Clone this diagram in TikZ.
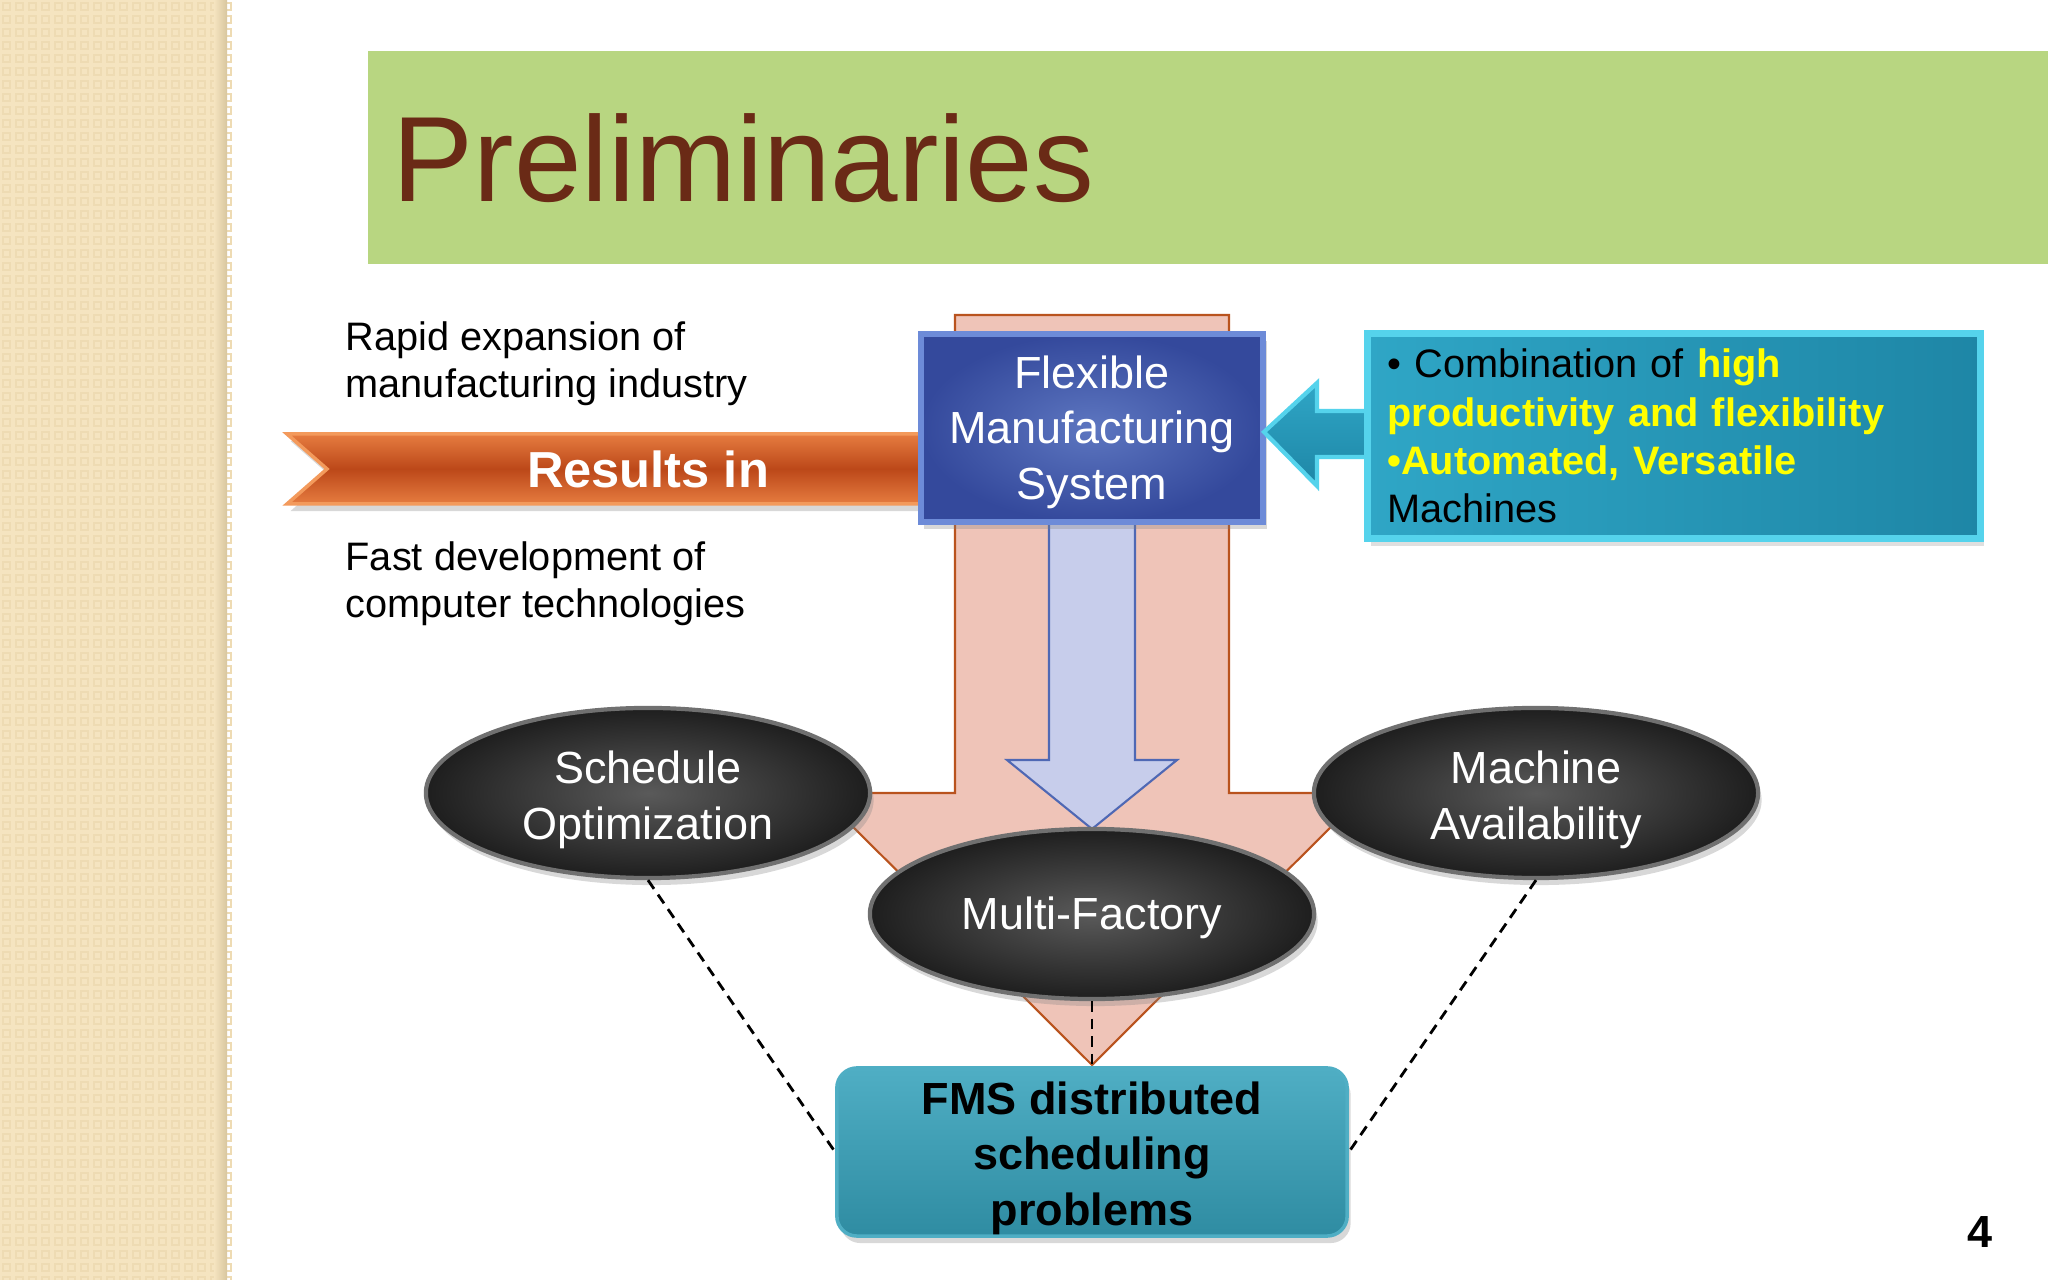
\documentclass[tikz,border=0pt]{standalone}
\usepackage{fontspec}
\setmainfont{Liberation Sans}
\usepackage{tikz}
\usetikzlibrary{shapes.geometric}
\usetikzlibrary{shadows}
\definecolor{stripbeige}{HTML}{F5E4C0}
\definecolor{stripdot}{HTML}{EEDBB3}
\definecolor{stripedge}{HTML}{D8C69E}
\definecolor{titlegreen}{HTML}{B8D681}
\definecolor{titlebrown}{HTML}{6A2A16}
\definecolor{salmonfill}{HTML}{EFC4B8}
\definecolor{salmonline}{HTML}{B9531E}
\definecolor{lavfill}{HTML}{C7CDEB}
\definecolor{lavline}{HTML}{4F68B4}
\definecolor{fmsblue}{HTML}{34499C}
\definecolor{fmslight}{HTML}{5D76C0}
\definecolor{fmsline}{HTML}{6D8BD8}
\definecolor{bannertop}{HTML}{E67C40}
\definecolor{bannermid}{HTML}{BC4819}
\definecolor{bannerline}{HTML}{F39A5C}
\definecolor{tealdark}{HTML}{1E86A6}
\definecolor{teallight}{HTML}{2FA6C6}
\definecolor{tealline}{HTML}{55D3EC}
\definecolor{hiyellow}{HTML}{FFFF00}
\definecolor{ovaldark}{HTML}{1E1E1E}
\definecolor{ovallight}{HTML}{5A5A5A}
\definecolor{ovalline}{HTML}{707070}
\definecolor{boxtop}{HTML}{4FAEC4}
\definecolor{boxbottom}{HTML}{2F8CA2}
\newcommand{\plainsize}{\fontsize{11.3}{13.4}\selectfont}
\newcommand{\infosize}{\fontsize{11.3}{13.7}\selectfont}
\newcommand{\ovalsize}{\fontsize{12.8}{15.8}\selectfont}
\newcommand{\lift}[1]{\rule{0pt}{#1}}
\tikzset{
	textstyle/.style={anchor=west,align=left,inner sep=0pt,font=\plainsize},
	ovalstyle/.style={ellipse,inner sep=0pt,draw=ovalline,line width=1.2pt,inner color=ovallight,outer color=ovaldark,text=white,minimum width=4.44cm,minimum height=1.7cm,align=center,font=\ovalsize,drop shadow={opacity=0.3,shadow xshift=1pt,shadow yshift=-2pt}},
	fmsstyle/.style={rectangle,draw=fmsline,line width=1.5pt,inner color=fmslight,outer color=fmsblue,text=white,minimum width=3.42cm,minimum height=1.88cm,align=center,font=\ovalsize,drop shadow={opacity=0.3,shadow xshift=1pt,shadow yshift=-2pt}},
	infostyle/.style={rectangle,draw=tealline,line width=2pt,left color=teallight,right color=tealdark,minimum width=6.13cm,minimum height=2.05cm,text width=5.73cm,inner xsep=0.2cm,align=left,font=\infosize,drop shadow={opacity=0.25,shadow xshift=1pt,shadow yshift=-2pt}},
	problemstyle/.style={rectangle,rounded corners=0.2cm,inner ysep=0pt,draw=boxtop,line width=1pt,top color=boxtop,bottom color=boxbottom,minimum width=5.1cm,minimum height=1.68cm,align=center,font=\ovalsize\bfseries,drop shadow={opacity=0.3,shadow xshift=1pt,shadow yshift=-2pt}},
	bigarrowstyle/.style={draw=salmonline,line width=0.6pt,fill=salmonfill},
	downarrowstyle/.style={draw=lavline,line width=0.6pt,fill=lavfill},
	bannerstyle/.style={draw=bannerline,line width=1pt,top color=bannertop,bottom color=bannertop,middle color=bannermid,drop shadow={opacity=0.3,shadow xshift=1pt,shadow yshift=-2pt}},
	callstyle/.style={draw=tealline,line width=1.2pt,top color=teallight,bottom color=tealdark},
	linkstyle/.style={dash pattern=on 3pt off 2pt,line width=0.8pt}
}
\begin{document}
\begin{tikzpicture}[x=0.01cm,y=-0.01cm]
	\useasboundingbox (0,0) rectangle (2048,1280);
	\fill[white] (0,0) rectangle (2048,1280);
	\fill[stripbeige] (0,0) rectangle (227,1280);
	\foreach \i in {0,...,17}{
		\foreach \j in {0,...,98}{
			\draw[stripdot,line width=0.6pt] (\i*13+3,\j*13+3) rectangle +(7,7);
		}
	}
	\shade[left color=stripbeige,right color=stripedge] (214,0) rectangle (227,1280);
	\fill[titlegreen] (368,51) rectangle (2048,264);
	\node[anchor=base west,inner sep=0pt,text=titlebrown,font=\fontsize{34.5}{40}\selectfont] (title) at (392,202) {Preliminaries};

	\draw[bigarrowstyle] (955,315) -- (1229,315) -- (1229,793) -- (1365,793) -- (1092,1065) -- (819,793) -- (955,793) -- cycle;
	\draw[downarrowstyle] (1049,515) -- (1135,515) -- (1135,760) -- (1177,760) -- (1092,829) -- (1007,760) -- (1049,760) -- cycle;
	\draw[bannerstyle] (287,434) -- (925,434) -- (925,504) -- (287,504) -- (327,469) -- cycle;
	\node[text=white,font=\fontsize{14.4}{17}\selectfont\bfseries] (results) at (648,469) {Results in};

	\node[textstyle] (rapid) at (345,364) {Rapid expansion of\\manufacturing industry};
	\node[textstyle] (fast) at (345,584) {Fast development of\\computer technologies};

	\node[fmsstyle] (fms) at (1092,428) {\lift{11.6pt}Flexible\\Manufacturing\\System};
	\draw[callstyle] (1264,432) -- (1317,383) -- (1317,411) -- (1372,411) -- (1372,457) -- (1317,457) -- (1317,486) -- cycle;
	\node[infostyle] (info) at (1674,436) {\textbullet{} Combination of \textcolor{hiyellow}{\bfseries high}\\\textcolor{hiyellow}{\bfseries productivity and flexibility}\\\textcolor{hiyellow}{\bfseries \textbullet Automated, Versatile}\\Machines};

	\node[ovalstyle] (sched) at (648,793) {\lift{13.2pt}Schedule\\Optimization};
	\node[ovalstyle] (mach) at (1536,793) {\lift{13.2pt}Machine\\Availability};
	\node[ovalstyle] (multi) at (1092,914) {\lift{11.6pt}Multi-Factory};
	\node[problemstyle] (fmsd) at (1092,1152) {\lift{12.7pt}FMS distributed\\scheduling\\problems};
	\draw[linkstyle] (sched.south)--(fmsd.west);
	\draw[linkstyle] (mach.south)--(fmsd.east);
	\draw[linkstyle] (multi.south)--(fmsd.north);

	\node[font=\fontsize{12.8}{15}\selectfont\bfseries] (pagenum) at (1980,1232) {4};
\end{tikzpicture}
\end{document}
